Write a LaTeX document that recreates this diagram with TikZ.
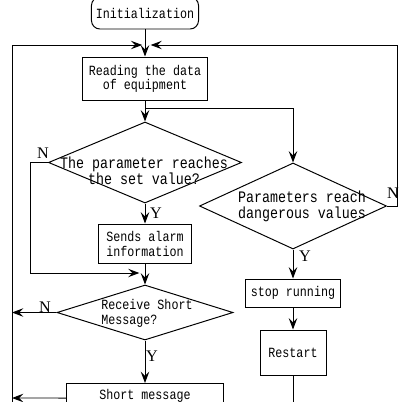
\documentclass[tikz,border=0pt]{standalone}
\usepackage{fontspec}
\setmainfont{Liberation Serif}
\newfontfamily\flowmono[FakeStretch=0.83]{Liberation Mono}
\usetikzlibrary{shapes.geometric,arrows.meta}
\newcommand\boxtext{\flowmono\fontsize{10}{10}\selectfont}
\newcommand\dectext{\flowmono\fontsize{11.4}{10}\selectfont}

\begin{document}
\begin{tikzpicture}
  [x=0.025cm,y=-0.025cm,line width=0.7pt,
   box/.style={draw,rectangle,inner sep=0pt,align=center,font=\boxtext},
   dec/.style={draw,diamond,inner sep=0pt},
   dtxt/.style={inner sep=0pt,align=center,font=\dectext},
   yn/.style={inner sep=0pt,font=\fontsize{11.5}{12}\selectfont},
   arr/.style={-{Stealth[length=8pt,width=6pt,inset=3pt]}}]
  \clip (0,0) rectangle (402,402);
  % left column
  \node[box,rounded corners=6pt,minimum width=2.675cm,minimum height=0.8cm] (init) at (145,13) {Initialization};
  \node[box,minimum width=3.1cm,minimum height=1.075cm] (read) at (145,78.5) {Reading the data\\of equipment};
  \node[dec,minimum width=4.825cm,minimum height=2.025cm] (d1) at (145,162.5) {};
  \node[dtxt] (t1) at (144,170.5) {The parameter reaches\\the set value?};
  \node[box,minimum width=2.325cm,minimum height=0.975cm] (alarm) at (145,243.5) {Sends alarm\\[0.7pt]information};
  \node[dec,minimum width=4.4cm,minimum height=1.375cm] (d3) at (145,312.5) {};
  \node[dtxt,align=left,font=\boxtext] (t3) at (147,313.5) {Receive Short\\[0.7pt] Message?};
  \node[box,anchor=north,minimum width=3.9cm,inner ysep=4pt,text depth=0.7cm] (sm) at (145,383) {Short message};
  % right column
  \node[dec,minimum width=4.675cm,minimum height=2.15cm] (d2) at (293,206) {};
  \node[dtxt] (t2) at (302,206) {Parameters reach\\[1.2pt]dangerous values};
  \node[box,minimum width=2.35cm,minimum height=0.7cm] (stop) at (293,293) {stop running};
  \node[box,minimum width=1.65cm,minimum height=1.125cm] (rst) at (293,352.5) {Restart};
  % junctions
  \coordinate (join) at (145,45);
  \coordinate (fork) at (145,108);
  \coordinate (merge) at (145,273);
  \coordinate (low) at (12,410);
  \coordinate (end) at (293,410);
  % labels
  \node[yn] (n1) at (43,153) {N};
  \node[yn] (y1) at (156,213) {Y};
  \node[yn] (n3) at (45,307) {N};
  \node[yn] (y3) at (152,356) {Y};
  \node[yn] (n2) at (393,193) {N};
  \node[yn] (y2) at (305,256) {Y};
  % connectors
  \draw[arr] (init) -- (read);
  \draw[arr] (read) -- (d1);
  \draw[arr] (fork) -| (d2.north);
  \draw[arr] (d1.south) -- (alarm);
  \draw[arr] (alarm) -- (d3.north);
  \draw[arr,shorten >=4pt] (d1.west) -- (30,162.5) |- (merge);
  \draw[arr] (d3.south) -- (sm);
  \draw[arr] (d3.west) -- (12,312.5);
  \draw[arr] ([yshift=-0.375cm]sm.north west) -- (12,398);
  \draw[arr,shorten >=2pt] (low) |- (join);
  \draw[arr,shorten >=4pt] (d2.east) -- (397,206) |- (join);
  \draw[arr] (d2.south) -- (stop);
  \draw[arr] (stop) -- (rst);
  \draw (rst) -- (end);
\end{tikzpicture}
\end{document}
